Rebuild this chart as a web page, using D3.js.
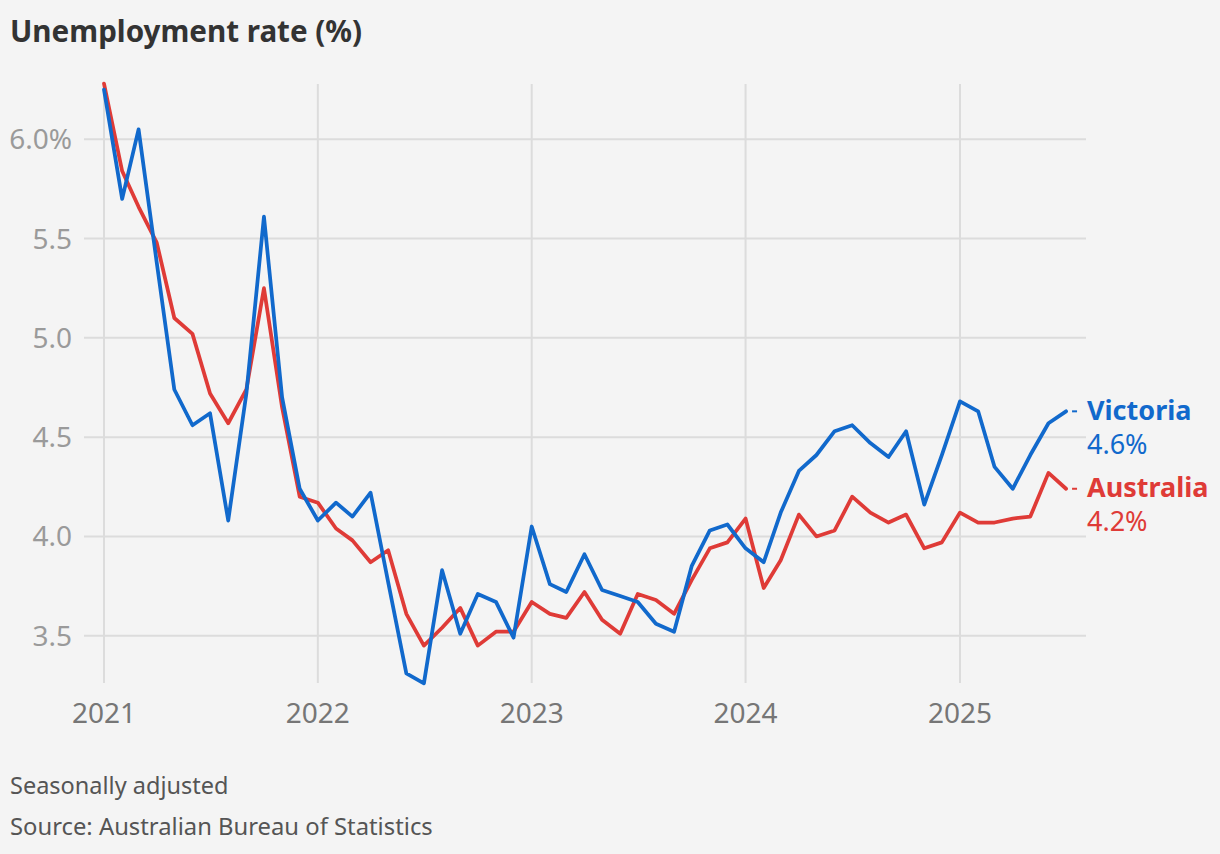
<!DOCTYPE html>
<html>
<head>
<meta charset="utf-8">
<script src="https://cdn.jsdelivr.net/npm/d3@7"></script>
<style>
  body { margin: 0; background: #f4f4f4; }
  svg { display: block; font-family: "Noto Sans", sans-serif; }
</style>
</head>
<body>
<svg id="chart"></svg>
<script>
// Monthly, Jan 2021 .. Jul 2025
const startMonth = new Date(2021, 0, 1);
const victoria = [6.25, 5.70, 6.05, 5.38, 4.74, 4.56, 4.62, 4.08, 4.72, 5.61, 4.70, 4.24,
  4.08, 4.17, 4.10, 4.22, 3.77, 3.31, 3.26, 3.83, 3.51, 3.71, 3.67, 3.49,
  4.05, 3.76, 3.72, 3.91, 3.73, 3.70, 3.67, 3.56, 3.52, 3.85, 4.03, 4.06,
  3.94, 3.87, 4.12, 4.33, 4.41, 4.53, 4.56, 4.47, 4.40, 4.53, 4.16, 4.41,
  4.68, 4.63, 4.35, 4.24, 4.41, 4.57, 4.63];
const australia = [6.28, 5.84, 5.66, 5.48, 5.10, 5.02, 4.72, 4.57, 4.74, 5.25, 4.65, 4.20,
  4.17, 4.04, 3.98, 3.87, 3.93, 3.61, 3.45, 3.54, 3.64, 3.45, 3.52, 3.52,
  3.67, 3.61, 3.59, 3.72, 3.58, 3.51, 3.71, 3.68, 3.61, 3.78, 3.94, 3.97,
  4.09, 3.74, 3.88, 4.11, 4.00, 4.03, 4.20, 4.12, 4.07, 4.11, 3.94, 3.97,
  4.12, 4.07, 4.07, 4.09, 4.10, 4.32, 4.24];
const yTicks = [3.5, 4.0, 4.5, 5.0, 5.5, 6.0];
const yearTicks = [2021, 2022, 2023, 2024, 2025];
const seriesNames = ["Australia", "Victoria"];
const seriesLabels = ["4.2%", "4.6%"];

const width = 1220, height = 854;
const colors = {Victoria: "#1169cc", Australia: "#df3b37"};

const svg = d3.select("#chart").attr("width", width).attr("height", height);
svg.append("rect").attr("width", width).attr("height", height).attr("fill", "#f4f4f4");

const month = i => d3.timeMonth.offset(startMonth, i);

const x = d3.scaleTime()
  .domain([new Date(2021, 0, 1), new Date(2025, 0, 1)])
  .range([104, 960]);
const y = d3.scaleLinear()
  .domain([3.5, 6.0])
  .range([635.7, 139.3]);

const plotTop = 84, plotBottom = 683, gridLeft = 84, gridRight = 1086;

// gridlines
svg.append("g").selectAll("line").data(yTicks).join("line")
  .attr("x1", gridLeft).attr("x2", gridRight)
  .attr("y1", d => y(d)).attr("y2", d => y(d))
  .attr("stroke", "#dcdcdc").attr("stroke-width", 2);
svg.append("g").selectAll("line").data(yearTicks).join("line")
  .attr("x1", d => x(new Date(d, 0, 1))).attr("x2", d => x(new Date(d, 0, 1)))
  .attr("y1", plotTop).attr("y2", plotBottom)
  .attr("stroke", "#dcdcdc").attr("stroke-width", 2);

// y labels
svg.append("g").selectAll("text").data(yTicks).join("text")
  .attr("x", 72).attr("y", d => y(d) + 10)
  .attr("text-anchor", "end")
  .attr("fill", "#9a9a9a").attr("font-size", 28)
  .text(d => d === 6 ? "6.0%" : d.toFixed(1));

// x labels
svg.append("g").selectAll("text").data(yearTicks).join("text")
  .attr("x", d => x(new Date(d, 0, 1))).attr("y", 723)
  .attr("text-anchor", "middle")
  .attr("fill", "#767676").attr("font-size", 28)
  .text(d => d);

// lines
const line = d3.line()
  .x((d, i) => x(month(i)))
  .y(d => y(d));
const data = {Victoria: victoria, Australia: australia};

seriesNames.forEach(name => {
  svg.append("path")
    .datum(data[name])
    .attr("fill", "none")
    .attr("stroke", colors[name])
    .attr("stroke-width", 3.75)
    .attr("stroke-linejoin", "round")
    .attr("stroke-linecap", "round")
    .attr("d", line);
});

// end labels
const labelPos = {Victoria: 420, Australia: 497};
seriesNames.forEach((name, k) => {
  const vals = data[name];
  const last = vals.length - 1;
  const ex = x(month(last)), ey = y(vals[last]);
  svg.append("line")
    .attr("x1", ex + 6).attr("x2", ex + 11)
    .attr("y1", ey).attr("y2", ey)
    .attr("stroke", colors[name]).attr("stroke-width", 2);
  svg.append("text")
    .attr("x", 1087).attr("y", labelPos[name])
    .attr("fill", colors[name]).attr("font-size", 27).attr("font-weight", "bold")
    .text(name);
  svg.append("text")
    .attr("x", 1087).attr("y", labelPos[name] + 34)
    .attr("fill", colors[name]).attr("font-size", 27)
    .text(seriesLabels[k]);
});

// title & notes
svg.append("text")
  .attr("x", 10).attr("y", 42)
  .attr("fill", "#333").attr("font-size", 29.6).attr("font-weight", "bold")
  .text("Unemployment rate (%)");
svg.append("text")
  .attr("x", 10).attr("y", 794)
  .attr("fill", "#555").attr("font-size", 23.5)
  .text("Seasonally adjusted");
svg.append("text")
  .attr("x", 10).attr("y", 835)
  .attr("fill", "#555").attr("font-size", 23.8)
  .text("Source: Australian Bureau of Statistics");
</script>
</body>
</html>
